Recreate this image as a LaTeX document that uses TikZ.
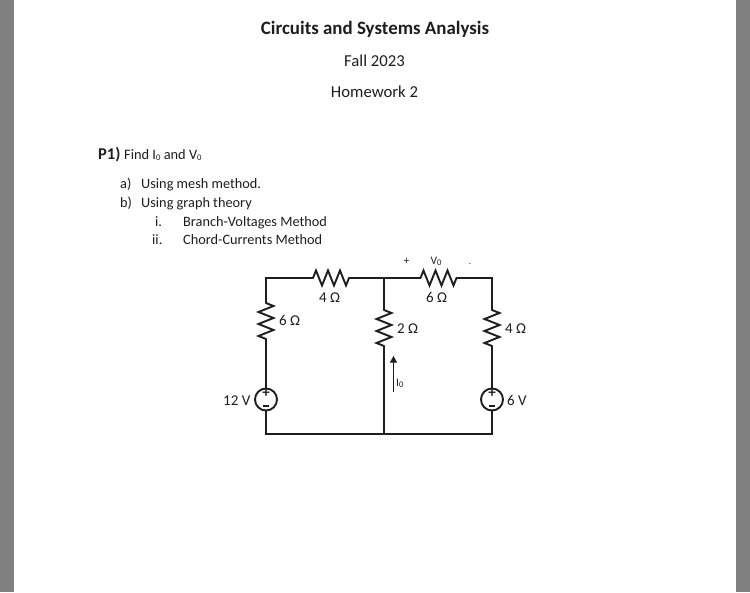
\documentclass[tikz,border=0pt]{standalone}
\usepackage{fontspec}
\setmainfont{Carlito}
\usetikzlibrary{arrows.meta}
\definecolor{ink}{HTML}{1E1E1E}
\definecolor{bar}{HTML}{808080}
\newcommand{\subz}{\raisebox{-0.12em}{\fontsize{8.6}{9}\selectfont 0}}
\tikzset{
  x=1pt,y=-1pt,
  wire/.style={draw=ink,line width=1.9pt,line join=miter,line cap=round},
  txt/.style={inner sep=0pt,text=ink,anchor=base west,font=\fontsize{14.3}{16}\selectfont},
  small/.style={inner sep=0pt,text=ink,anchor=base west,font=\fontsize{14.4}{16}\selectfont},
  ctr/.style={inner sep=0pt,text=ink,anchor=base,font=\fontsize{16.7}{19}\selectfont},
  val/.style={inner sep=0pt,text=ink,anchor=base west,font=\fontsize{15}{17}\selectfont},
  src/.style={circle,draw=ink,line width=1.9pt,minimum size=22pt,inner sep=0pt,fill=white},
  res/.pic={
    \draw[wire] (0,0) -- (3,-7.5) -- (9,7.5) -- (15,-7.5) -- (21,7.5) -- (27,-7.5) -- (33,7.5) -- (36,0);
    \coordinate (-a) at (0,0);
    \coordinate (-b) at (36,0);
  }
}
\begin{document}
\begin{tikzpicture}
\useasboundingbox (0,0) rectangle (750,592);
\fill[white] (0,0) rectangle (750,592);
\fill[bar] (0,0) rectangle (14,592);
\fill[bar] (736,0) rectangle (750,592);

% heading
\node[ctr,font=\fontsize{18.9}{22}\selectfont\bfseries] (title) at (375,34) {Circuits and Systems Analysis};
\node[ctr] (term) at (374.5,66) {Fall 2023};
\node[ctr] (hw) at (374.5,97) {Homework 2};

% problem text
\node[small,font=\fontsize{16.5}{19}\selectfont\bfseries] (p1) at (98,159) {P1)};
\node[small] (find) at (124,159) {Find I\subz{} and V\subz};
\node[txt] (la) at (120,188) {a)};
\node[txt] (ta) at (141,188) {Using mesh method.};
\node[txt] (lb) at (120,207) {b)};
\node[txt] (tb) at (141,207) {Using graph theory};
\node[txt] (li) at (155,226) {i.};
\node[txt] (ti) at (183,226) {Branch-Voltages Method};
\node[txt] (lii) at (152,244) {ii.};
\node[txt] (tii) at (183,244) {Chord-Currents Method};

% junctions
\coordinate (tl) at (266,278);
\coordinate (tm) at (384,278);
\coordinate (tr) at (492,278);
\coordinate (bl) at (266,434);
\coordinate (bm) at (384,434);
\coordinate (br) at (492,434);

% resistors
\pic (r1) at (313,278) {res};
\pic (r2) at (420.5,278) {res};
\pic[rotate=-90] (r3) at (266,303) {res};
\pic[rotate=-90] (r4) at (384,310) {res};
\pic[rotate=-90] (r5) at (492,310) {res};

% sources
\node[src] (v1) at (266,399.5) {};
\node[src] (v2) at (492,399.5) {};

% wires
\draw[wire] (v1.north) -- (r3-b);
\draw[wire] (r3-a) -- (tl) -- (r1-a);
\draw[wire] (r1-b) -- (tm) -- (r2-a);
\draw[wire] (r2-b) -- (tr) -- (r5-a);
\draw[wire] (r5-b) -- (v2.north);
\draw[wire] (v2.south) -- (br) -- (bm) -- (bl) -- (v1.south);
\draw[wire] (tm) -- (r4-a);
\draw[wire] (r4-b) -- (bm);

% source polarity marks
\foreach \s in {v1,v2}{
  \node[inner sep=0pt,text=ink,font=\fontsize{15}{15}\selectfont\bfseries] at ([yshift=6.5pt]\s.center) {+};
  \draw[draw=ink,line width=1.8pt] ([xshift=-3pt,yshift=-6.5pt]\s.center) -- ([xshift=3pt,yshift=-6.5pt]\s.center);
}

% current arrow
\coordinate (ia) at (393.5,392);
\coordinate (ib) at (393.5,356);
\draw[draw=ink,line width=0.6pt,-{Triangle[length=6.5pt,width=7pt]}] (ia) -- (ib);

% labels
\node[val] (l4a) at (319,302) {4 Ω};
\node[val] (l6a) at (426,302) {6 Ω};
\node[val] (l6b) at (279,325) {6 Ω};
\node[val] (l2) at (397,333) {2 Ω};
\node[val] (l4b) at (505,333) {4 Ω};
\node[val] (l12) at (223,405) {12 V};
\node[val] (l6v) at (507,405) {6 V};
\node[inner sep=0pt,text=ink,anchor=base west,font=\fontsize{11.5}{13}\selectfont] (lio) at (396,386) {I\subz};
\node[inner sep=0pt,text=ink,anchor=base,font=\fontsize{11.5}{13}\selectfont] (lvo) at (436,264) {V\subz};
\node[inner sep=0pt,text=ink,anchor=base,font=\fontsize{11.5}{13}\selectfont] (lp) at (406.5,264) {+};
\node[inner sep=0pt,text=ink,anchor=base,font=\fontsize{9}{11}\selectfont] (ld) at (470,264) {.};
\end{tikzpicture}
\end{document}
